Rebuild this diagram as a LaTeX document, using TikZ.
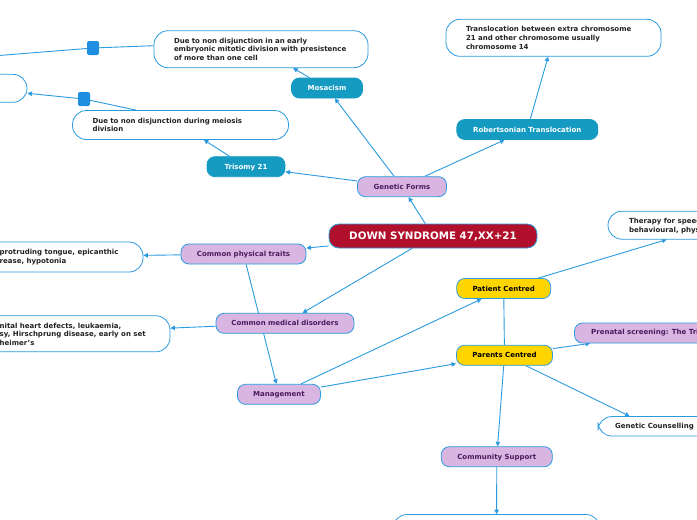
\documentclass[tikz,border=0pt]{standalone}
\usepackage{fontspec}
\setmainfont{DejaVu Sans}
\usetikzlibrary{arrows.meta}
\definecolor{lineblue}{HTML}{2B9BE0}
\definecolor{tealfill}{HTML}{159AC2}
\definecolor{lilacfill}{HTML}{D9B6E2}
\definecolor{purpletext}{HTML}{4B1B5E}
\definecolor{yellowfill}{HTML}{FFD500}
\definecolor{rootfill}{HTML}{B0102B}
\definecolor{darktext}{HTML}{222222}
\definecolor{sqfill}{HTML}{1E8FE0}
\newcommand{\lblfont}{\fontsize{7}{8.6}\selectfont\bfseries}
\pgfdeclarelayer{background}
\pgfsetlayers{background,main}
\tikzset{
  conn/.style={draw=lineblue, line width=0.9pt, -{Triangle[length=4.5pt,width=4.5pt]}},
  plain/.style={draw=lineblue, line width=0.9pt},
  base/.style={rounded corners=8pt, line width=0.8pt, draw=lineblue, inner sep=0pt, font=\lblfont, minimum height=20pt},
  single/.style={base, text height=6.6pt, text depth=1.5pt},
  tealbox/.style={single, fill=tealfill, draw=tealfill, text=white},
  lilacbox/.style={single, fill=lilacfill, text=purpletext},
  yellowbox/.style={single, fill=yellowfill, text=black},
  rootbox/.style={base, rounded corners=10pt, fill=rootfill, text=white, font=\fontsize{10.3}{12}\selectfont\bfseries, text height=9.5pt, text depth=2pt},
  desc/.style={base, rounded corners=14pt, fill=white, text=darktext, align=left, inner xsep=20pt},
  descbox/.style={base, rounded corners=14pt, fill=white},
  txt/.style={font=\lblfont, text=darktext, align=left, inner sep=0pt, anchor=west},
  sq/.style={fill=sqfill, rounded corners=2pt, minimum width=12pt, minimum height=14pt, inner sep=0pt}
}
\begin{document}
\begin{tikzpicture}[x=1pt,y=-1pt]
\useasboundingbox (0,0) rectangle (697,520);
\clip (0,0) rectangle (697,520);
% nodes
\node[rootbox, minimum width=208pt, minimum height=24pt] (root) at (433,236) {DOWN SYNDROME 47,XX+21};
\node[lilacbox, minimum width=89pt] (gf) at (402,186.7) {Genetic Forms};
\node[tealbox, minimum width=71pt] (mos) at (327,88) {Mosacism};
\node[tealbox, minimum width=78pt] (tri) at (246,166.7) {Trisomy 21};
\node[tealbox, minimum width=141pt] (rob) at (527.3,129.5) {Robertsonian Translocation};
\node[desc, text width=174pt, minimum height=37pt] (mdesc) at (261,49.2) {Due to non disjunction in an early\\embryonic mitotic division with presistence\\of more than one cell};
\node[desc, text width=176pt, minimum height=29pt] (meio) at (180.5,125) {Due to non disjunction during meiosis\\division};
\node[desc, text width=175pt, minimum height=37pt] (tdesc) at (553.5,37.8) {Translocation between extra chromosome\\21 and other chromosome usually\\chromosome 14};
\node[descbox, minimum width=127pt, minimum height=28pt] (tl) at (-36.5,88.3) {};
\node[lilacbox, minimum width=125pt] (traits) at (243.5,254) {Common physical traits};
\node[descbox, minimum width=243pt, minimum height=30pt] (trd) at (21.5,257) {};
\node[txt] (trdtext) at (-0.5,256.8) {protruding tongue, epicanthic\\rease, hypotonia};
\node[lilacbox, minimum width=138pt] (med) at (285,323.3) {Common medical disorders};
\node[descbox, minimum width=270pt, minimum height=36pt] (mdd) at (35,333.8) {};
\node[txt] (mddtext) at (-0.5,334.2) {nital heart defects, leukaemia,\\sy, Hirschprung disease, early on set\\heimer's};
\node[lilacbox, minimum width=83pt] (mgmt) at (279,394.3) {Management};
\node[yellowbox, minimum width=94pt] (pat) at (503.7,288.5) {Patient Centred};
\node[yellowbox, minimum width=96pt] (par) at (504.5,355.3) {Parents Centred};
\node[descbox, minimum width=192pt, minimum height=28pt] (ther) at (704,225.2) {};
\node[txt] (thertext) at (629,226) {Therapy for speec\\behavioural, phys};
\node[lilacbox, minimum width=225pt] (pren) at (687,333) {};
\node[txt, text=purpletext] (prentext) at (591,333) {Prenatal screening: The Tri};
\node[descbox, minimum width=202pt, minimum height=19.5pt] (gc) at (699,426.3) {};
\node[txt] (gctext) at (615,426.5) {Genetic Counselling};
\node[lilacbox, minimum width=111pt] (comm) at (496.8,456.7) {Community Support};
\node[descbox, minimum width=207pt, minimum height=45pt] (bot) at (496.5,537) {};
\node[sq] (sq1) at (93,48) {};
\node[sq] (sq2) at (84,99) {};
\coordinate (offl) at (-5,55.8);
% connectors
\begin{pgfonlayer}{background}
\fill[white] (0,0) rectangle (697,520);
\draw[conn] (root) -- (gf);
\draw[conn] (gf) -- (mos);
\draw[conn] (gf) -- (tri);
\draw[conn] (gf) -- (rob);
\draw[conn] (mos) -- (mdesc);
\draw[conn] (tri) -- (meio);
\draw[conn] (rob) -- (tdesc);
\draw[plain] ([yshift=3.5pt]mdesc.west) -- (sq1) -- (offl);
\draw[conn] ([xshift=64pt]meio.north west) -- (sq2) -- ([yshift=-5pt]tl.east);
\draw[conn] (root) -- (traits);
\draw[conn] (root) -- (med);
\draw[conn] (traits) -- (mgmt);
\draw[conn] (traits) -- (trd);
\draw[conn] (med) -- (mdd);
\draw[conn] (mgmt) -- (pat);
\draw[conn] (mgmt) -- (par);
\draw[plain] (pat) -- (par);
\draw[conn] (pat) -- ([xshift=59pt]ther.south west);
\draw[conn] (par) -- ([xshift=16pt]pren.south west);
\draw[conn] (par) -- ([xshift=32pt]gc.north west);
\draw[conn] (par) -- (comm);
\draw[conn] (comm) -- (bot);
\end{pgfonlayer}
\end{tikzpicture}
\end{document}
